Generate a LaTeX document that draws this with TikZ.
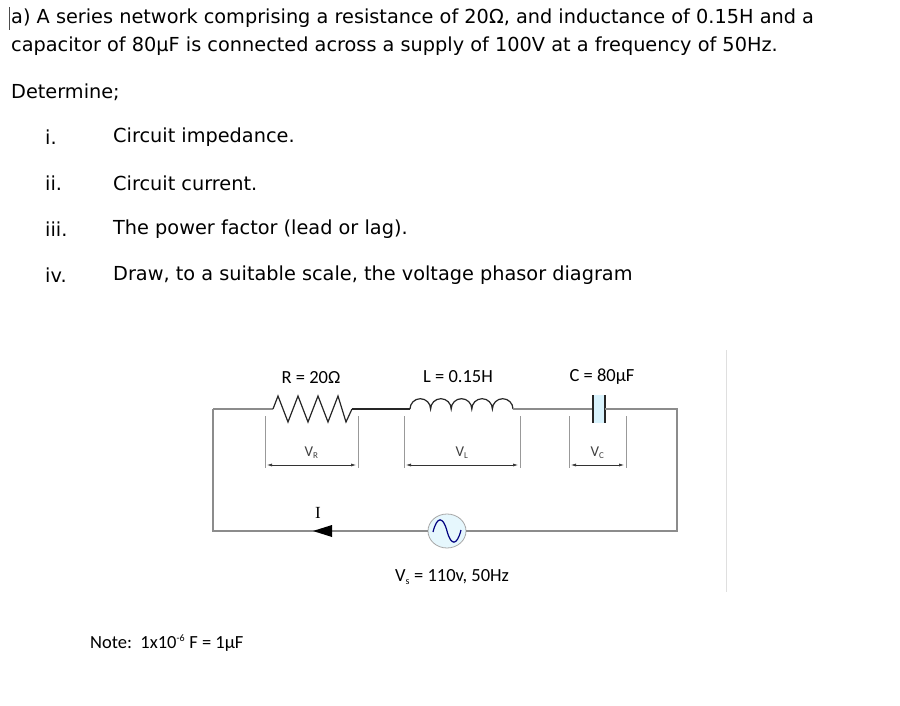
\documentclass[tikz,border=0pt]{standalone}
\usepackage{fontspec}
\setmainfont{DejaVu Sans}
\newfontfamily\calfnt{Carlito}
\newfontfamily\tmsfnt{Liberation Serif}
\usetikzlibrary{arrows.meta,shapes.geometric}
\begin{document}
\begin{tikzpicture}[x=1pt,y=-1pt,
  txt/.style={anchor=west,inner sep=0,font=\fontsize{19.3}{21}\selectfont},
  ctxt/.style={inner sep=0,font=\calfnt\fontsize{18.5}{20}\selectfont},
  wire/.style={draw=gray!90,line width=1.2pt},
  bar/.style={draw=gray!80,line width=1pt},
  dim/.style={draw=black!80,line width=0.6pt,{Latex[length=5pt,width=3pt]}-{Latex[length=5pt,width=3pt]}}]
\useasboundingbox (0,0) rectangle (900,706);
\fill[white] (0,0) rectangle (900,706);
\node[txt] (t1) at (11,18) {a) A series network comprising a resistance of 20Ω, and inductance of 0.15H and a};
\draw[black!70,line width=0.6pt] (9,7)--(9,30);
\node[txt] (t2) at (11,46) {capacitor of 80μF is connected across a supply of 100V at a frequency of 50Hz.};
\node[txt] (t3) at (11,92) {Determine;};
\foreach \y/\r/\t [count=\i] in {137/i./Circuit impedance., 183/ii./Circuit current., 229/iii./The power factor (lead or lag)., 275/iv./{Draw, to a suitable scale, the voltage phasor diagram}}{
  \node[txt] (r\i) at (45,\y) {\r};
  \node[txt] (q\i) at (113,\y) {\t};
}
% circuit
\coordinate (tl) at (213,409);
\coordinate (tr) at (677,409);
\coordinate (bl) at (213,531);
\coordinate (br) at (677,531);
\coordinate (ra) at (273,409);
\coordinate (rb) at (352,409);
\coordinate (la) at (410,409);
\coordinate (lb) at (513,409);
\coordinate (ca) at (593,409);
\coordinate (cb) at (605,409);
\node[draw=gray!70,fill=cyan!10,ellipse,minimum width=38pt,minimum height=34pt,inner sep=0,line width=0.8pt] (src) at (447,531) {};
\draw[wire] (tl)--(ra);
\draw[black!85,line width=1.2pt] (ra)--(278,396)--(288,422)--(298,396)--(308,422)--(318,396)--(328,422)--(338,396)--(346,422)--(rb);
\draw[black!85,line width=1.2pt] (rb)--(la);
\draw[black!85,line width=1.2pt] (la) arc[start angle=180,end angle=360,radius=10.3] arc[start angle=180,end angle=360,radius=10.3] arc[start angle=180,end angle=360,radius=10.3] arc[start angle=180,end angle=360,radius=10.3] arc[start angle=180,end angle=360,radius=10.3];
\draw[wire] (lb)--(ca);
\fill[cyan!15] (593,395) rectangle (605,423);
\draw[black!85,line width=2pt] (593,395)--(593,423) (605,395)--(605,423);
\draw[wire] (cb)--(tr)--(br)--(src.east);
\draw[wire] (src.west)--(bl)--(tl);
\draw[blue!50!black,line width=1.2pt] (433,532) .. controls (437,516) and (443,516) .. (447,531) .. controls (451,546) and (457,546) .. (461,530);
\fill[black] (313,531)--(332,525)--(332,537)--cycle;
\node[font=\tmsfnt\fontsize{17}{19}\selectfont,inner sep=0] (I) at (318,513) {I};
% voltage bars
\foreach \a/\b/\n/\lab in {265/358/R/{V\textsubscript{\fontsize{9}{10}\selectfont R}},404/520/L/{V\textsubscript{\fontsize{9}{10}\selectfont L}},569/626/C/{V\textsubscript{\fontsize{9}{10}\selectfont C}}}{
  \draw[bar] (\a,416)--(\a,468);
  \draw[bar] (\b,416)--(\b,468);
  \coordinate (d\n a) at (\a+2,465);
  \coordinate (d\n b) at (\b-2,465);
  \draw[dim] (d\n a)--(d\n b);
  \node[ctxt,font=\calfnt\fontsize{15}{16}\selectfont,text=black!75] (v\n) at ({(\a+\b)/2},453) {\lab};
}
\node[ctxt] (lR) at (311,378) {R = 20Ω};
\node[ctxt] (lL) at (458,377) {L = 0.15H};
\node[ctxt] (lC) at (602,377) {C = 80μF};
\node[ctxt] (lV) at (452,577) {V\textsubscript{\fontsize{10}{11}\selectfont s} = 110v, 50Hz};
\draw[gray!25,line width=0.8pt] (726,350)--(726,592);
\node[ctxt,anchor=west] (note) at (90,643) {Note:\ \ 1x10\textsuperscript{\fontsize{10}{11}\selectfont -6} F = 1μF};
\end{tikzpicture}
\end{document}
